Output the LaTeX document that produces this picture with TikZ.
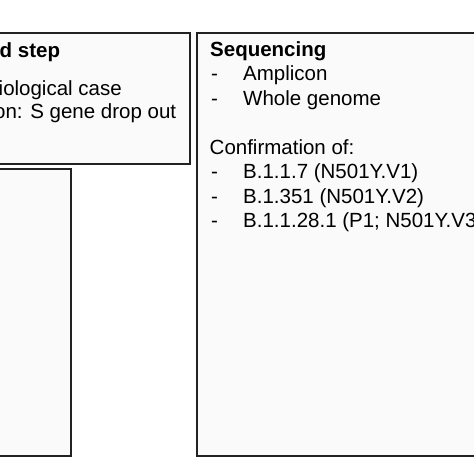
\documentclass[tikz,border=0pt]{standalone}
\usepackage{fontspec}
\setmainfont{Liberation Sans}
\definecolor{boxline}{HTML}{222222}
\definecolor{boxfill}{HTML}{FAFAFA}
\begin{document}
\begin{tikzpicture}[x=1pt,y=-1pt,
  box/.style={draw=boxline,fill=boxfill,line width=2.2pt},
  txt/.style={anchor=base west,inner sep=0pt,text=black,font=\fontsize{20.5}{24.5}\selectfont},
  btxt/.style={txt,font=\fontsize{20.5}{24.5}\selectfont\bfseries}]
\useasboundingbox (0,0) rectangle (474,474);
\clip (0,0) rectangle (474,474);
\fill[white] (0,0) rectangle (474,474);
% boxes
\path[box] (-10,32.7) rectangle (190,164);
\path[box] (-10,169) rectangle (71,455.7);
\path[box] (196.7,32.7) rectangle (490,455.7);
% left top box text
\node[btxt] (a1) at (-0.5,57.3) {d step};
\node[txt] (a2) at (-1.5,95) {iological case};
\node[txt] (a3) at (-6,118.5) {on: S gene drop out};
% right box text
\node[btxt] (s0) at (210,56.7) {Sequencing};
\node[txt] (d1) at (211,80.5) {-};
\node[txt] (s1) at (243,80.5) {Amplicon};
\node[txt] (d2) at (211,105) {-};
\node[txt] (s2) at (243,105) {Whole genome};
\node[txt] (c0) at (209.5,154) {Confirmation of:};
\node[txt] (d3) at (211,178.5) {-};
\node[txt] (c1) at (243,178.5) {B.1.1.7 (N501Y.V1)};
\node[txt] (d4) at (211,203) {-};
\node[txt] (c2) at (243,203) {B.1.351 (N501Y.V2)};
\node[txt] (d5) at (211,227.5) {-};
\node[txt] (c3) at (243,227.5) {B.1.1.28.1 (P1; N501Y.V3};
\end{tikzpicture}
\end{document}
